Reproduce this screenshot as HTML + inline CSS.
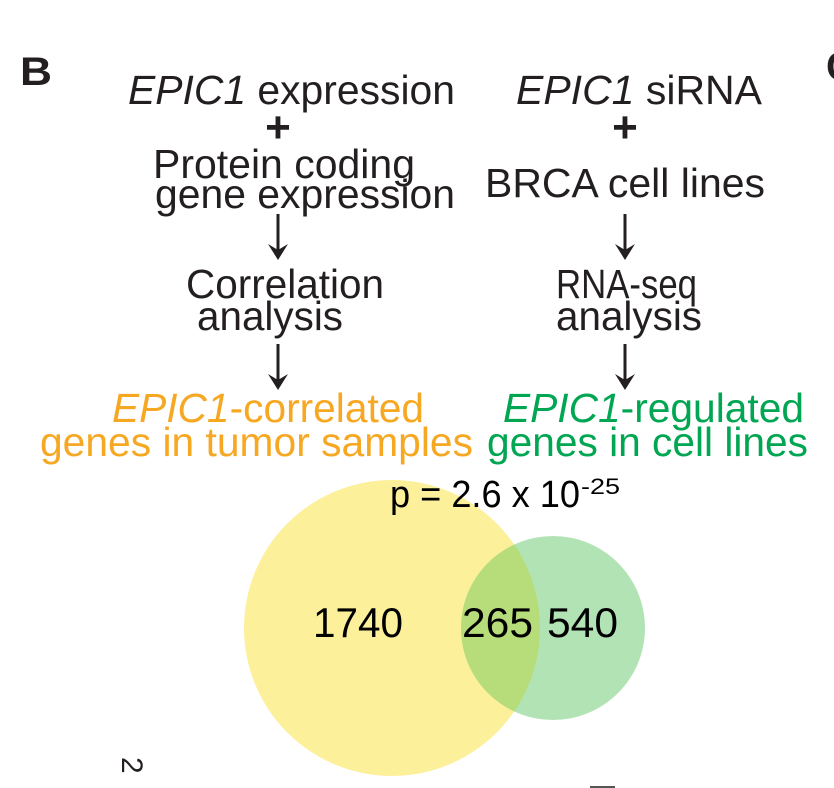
<!DOCTYPE html>
<html><head><style>
html,body{margin:0;padding:0;background:#fff;}
svg{display:block;}
text{font-family:"Liberation Sans",sans-serif;fill:#231f20;font-size:41px;}
</style></head><body>
<svg width="834" height="788" viewBox="0 0 834 788">
<defs>
<clipPath id="g"><circle cx="553" cy="628" r="92"/></clipPath>
</defs>
<circle cx="392" cy="628" r="148" fill="#fdf09a"/>
<circle cx="553" cy="628" r="92" fill="#b2e3b5"/>
<circle cx="392" cy="628" r="148" fill="#b7dc7a" clip-path="url(#g)"/>

<text x="20" y="85" font-weight="bold" style="font-size:40px" textLength="32" lengthAdjust="spacingAndGlyphs">B</text>

<text x="128" y="104" textLength="327" lengthAdjust="spacingAndGlyphs"><tspan font-style="italic">EPIC1</tspan> expression</text>
<text x="278" y="142" text-anchor="middle" font-weight="bold" style="font-size:44px">+</text>
<text x="153" y="178" textLength="262" lengthAdjust="spacingAndGlyphs">Protein coding</text>
<text x="155" y="208" textLength="300" lengthAdjust="spacingAndGlyphs">gene expression</text>
<line x1="278" y1="214" x2="278" y2="256" stroke="#231f20" stroke-width="3"/>
<path d="M268,244 L278,260 L288,244 L278,250Z" fill="#231f20"/>
<text x="186" y="298" textLength="198" lengthAdjust="spacingAndGlyphs">Correlation</text>
<text x="197" y="330" textLength="146" lengthAdjust="spacingAndGlyphs">analysis</text>
<line x1="278" y1="344" x2="278" y2="386" stroke="#231f20" stroke-width="3"/>
<path d="M268,374 L278,390 L288,374 L278,380Z" fill="#231f20"/>
<text x="112" y="422" style="fill:#f7a823" textLength="312" lengthAdjust="spacingAndGlyphs"><tspan font-style="italic" style="fill:#f7a823">EPIC1</tspan>-correlated</text>
<text x="40" y="456" style="fill:#f7a823" textLength="433" lengthAdjust="spacingAndGlyphs">genes in tumor samples</text>

<text x="516" y="104" textLength="246" lengthAdjust="spacingAndGlyphs"><tspan font-style="italic">EPIC1</tspan> siRNA</text>
<text x="625" y="142" text-anchor="middle" font-weight="bold" style="font-size:44px">+</text>
<text x="485" y="197" textLength="280" lengthAdjust="spacingAndGlyphs">BRCA cell lines</text>
<line x1="625" y1="214" x2="625" y2="256" stroke="#231f20" stroke-width="3"/>
<path d="M615,244 L625,260 L635,244 L625,250Z" fill="#231f20"/>
<text x="556" y="298" textLength="141" lengthAdjust="spacingAndGlyphs">RNA-seq</text>
<text x="556" y="330" textLength="146" lengthAdjust="spacingAndGlyphs">analysis</text>
<line x1="625" y1="344" x2="625" y2="386" stroke="#231f20" stroke-width="3"/>
<path d="M615,374 L625,390 L635,374 L625,380Z" fill="#231f20"/>
<text x="503" y="422" style="fill:#00a651" textLength="301" lengthAdjust="spacingAndGlyphs"><tspan font-style="italic" style="fill:#00a651">EPIC1</tspan>-regulated</text>
<text x="487" y="456" style="fill:#00a651" textLength="321" lengthAdjust="spacingAndGlyphs">genes in cell lines</text>

<text x="390" y="507" style="fill:#000;font-size:38px" textLength="190" lengthAdjust="spacingAndGlyphs">p = 2.6 x 10</text>
<text x="581" y="494" style="fill:#000;font-size:22px" textLength="39" lengthAdjust="spacingAndGlyphs">-25</text>

<text x="313" y="637" style="fill:#000;font-size:42px" textLength="90" lengthAdjust="spacingAndGlyphs">1740</text>
<text x="462" y="637" style="fill:#000;font-size:42px" textLength="71" lengthAdjust="spacingAndGlyphs">265</text>
<text x="547" y="637" style="fill:#000;font-size:42px" textLength="71" lengthAdjust="spacingAndGlyphs">540</text>

<text x="0" y="0" transform="translate(122,757) rotate(90)" style="font-size:30px">2</text>
<rect x="590" y="786" width="25" height="2" fill="#555"/>
<text x="826" y="80" style="font-size:40px" font-weight="bold">C</text>
</svg>
</body></html>
